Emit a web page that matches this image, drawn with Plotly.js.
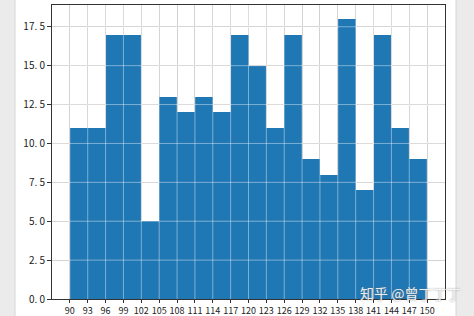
<!DOCTYPE html>
<html>
<head>
<meta charset="utf-8">
<script src="https://cdn.plot.ly/plotly-3.0.1.min.js"></script>
<style>html,body{margin:0;padding:0;background:#ebebeb;}#chart{width:474px;height:316px;}</style>
</head>
<body>
<div id="chart"></div>
<script>
// Histogram bins (lower edges), bin width and counts
const binStarts = [90, 93, 96, 99, 102, 105, 108, 111, 114, 117, 120, 123, 126, 129, 132, 135, 138, 141, 144, 147];
const binWidth = 3;
const counts = [11, 11, 17, 17, 5, 13, 12, 13, 12, 17, 15, 11, 17, 9, 8, 18, 7, 17, 11, 9];
const xTicks = [90, 93, 96, 99, 102, 105, 108, 111, 114, 117, 120, 123, 126, 129, 132, 135, 138, 141, 144, 147, 150];
const yTicks = [0, 2.5, 5, 7.5, 10, 12.5, 15, 17.5];
const yTickText = ['0. 0', '2. 5', '5. 0', '7. 5', '10. 0', '12. 5', '15. 0', '17. 5'];
const watermark = '知乎 @曾丁丁丁';

const W = 474, H = 316;
const L = 52, R = 29, T = 5, B = 17;
const pw = W - L - R;

const shapes = [];
// figure white panel
shapes.push({type: 'rect', xref: 'paper', yref: 'paper', layer: 'below',
  x0: (15 - L) / pw, x1: (456 - L) / pw, y0: -0.2, y1: 1.1,
  fillcolor: '#ffffff', line: {color: '#d6d6d6', width: 1}});
// gridlines drawn over bars (light overlay)
xTicks.forEach(v => shapes.push({type: 'line', xref: 'x', yref: 'paper', layer: 'above',
  x0: v, x1: v, y0: 0, y1: 1, line: {color: 'rgba(255,255,255,0.42)', width: 1}}));
yTicks.slice(1).forEach(v => shapes.push({type: 'line', xref: 'paper', yref: 'y', layer: 'above',
  x0: 0, x1: 1, y0: v, y1: v, line: {color: 'rgba(255,255,255,0.42)', width: 1}}));

const trace = {
  type: 'bar', x: binStarts, y: counts, width: binWidth, offset: 0,
  marker: {color: '#1f77b4', line: {width: 0}}, hoverinfo: 'skip'
};

const axisCommon = {
  showline: true, linecolor: '#333333', linewidth: 1, mirror: true,
  ticks: 'outside', ticklen: 4, tickcolor: '#333333', tickwidth: 1,
  showgrid: true, gridcolor: '#c4c4c4', gridwidth: 1, zeroline: false,
  tickfont: {family: 'Noto Sans CJK SC, DejaVu Sans, sans-serif', size: 10, color: '#222222'}
};

const layout = {
  width: W, height: H,
  margin: {l: L, r: R, t: T, b: B, pad: 0},
  paper_bgcolor: '#ebebeb', plot_bgcolor: 'rgba(0,0,0,0)',
  bargap: 0, showlegend: false,
  xaxis: Object.assign({}, axisCommon, {range: [87, 153], tickmode: 'array', tickvals: xTicks, ticktext: xTicks.map(String),
    tickangle: 0, ticklen: 3, tickfont: {family: 'Noto Sans CJK SC, DejaVu Sans, sans-serif', size: 9, color: '#222222'}}),
  yaxis: Object.assign({}, axisCommon, {range: [0, 18.9], tickmode: 'array', tickvals: yTicks, ticktext: yTickText}),
  shapes: shapes,
  annotations: [{
    text: watermark, xref: 'paper', yref: 'paper', x: (358 - L) / pw, y: -0.02, xanchor: 'left', yanchor: 'bottom',
    showarrow: false,
    font: {family: 'Noto Sans CJK SC, sans-serif', size: 14, color: 'rgba(255,255,255,0.9)', shadow: '0px 0px 2px #777'}
  }]
};

Plotly.newPlot('chart', [trace], layout, {staticPlot: true, displayModeBar: false});
</script>
</body>
</html>
